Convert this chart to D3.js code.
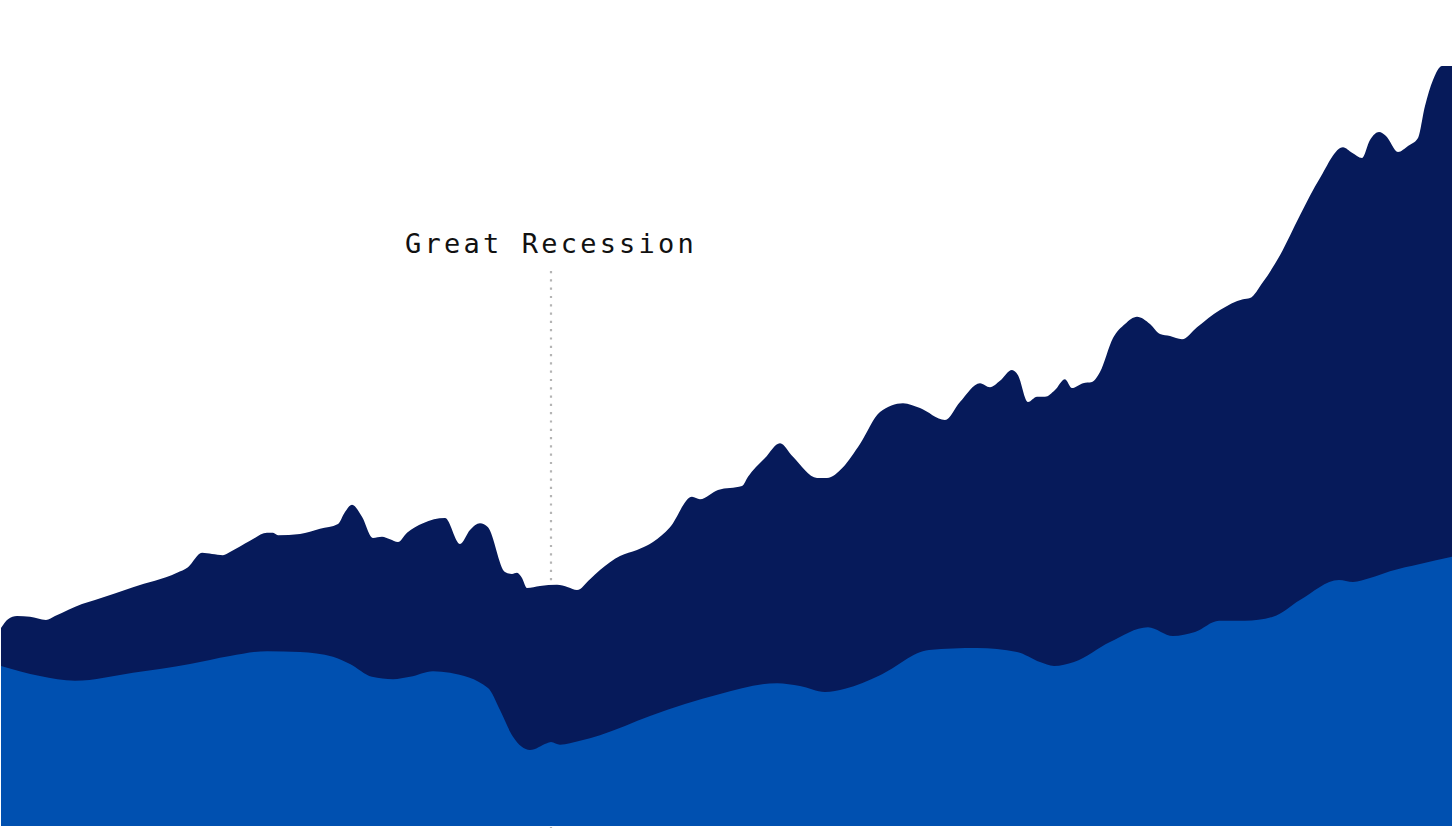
<!DOCTYPE html>
<html>
<head>
<meta charset="utf-8">
<script src="https://cdn.jsdelivr.net/npm/d3@7"></script>
<style>
  html, body { margin: 0; padding: 0; background: #fff; }
  svg { display: block; }
</style>
</head>
<body>
<div id="chart"></div>
<script>
// time index (months from start) and index values
const totalT = [0, 1.4, 3.2, 5.8, 9, 10.8, 16.2, 18.8, 26.4, 35.2, 37.4, 40.2, 42.2, 44.4, 45.8, 49.8, 53.2, 54.4, 55.4, 59.8,
  63.8, 67.4, 68.8, 70.2, 72.2, 74.4, 76.2, 77.8, 79.4, 81.2, 84.4, 88.8, 91.8, 93.8, 95.8, 97.4, 100.8, 102.2, 103.2, 104.2,
  105.2, 107.8, 111.2, 113.4, 115.2, 117.8, 119.8, 123.8, 127.2, 130.4, 133.8, 138.2, 139.8, 143.4, 148.2, 149.4, 152.8, 155.8, 158.4, 163.2,
  165.2, 168.4, 171.8, 175.8, 180.4, 183.8, 188.8, 191.8, 195.8, 197.8, 199.8, 202.2, 203.4, 205.4, 207.2, 208.8, 210.8, 212.8, 214.2, 216.4,
  218.2, 219.8, 222.4, 224.8, 227.2, 229.8, 231.8, 233.8, 236.2, 239.2, 243.8, 248.4, 249.8, 252.4, 255.8, 259.8, 263.8, 268.4, 270.2, 272.2,
  273.8, 275.6, 277, 279.4, 281.4, 283.4, 284.8, 286.4, 288.2, 290.2];
const totalV = [25, 26.1, 26.5, 26.4, 26, 26.5, 28, 28.5, 30.1, 31.9, 32.6, 34.4, 34.25, 34.1, 34.5, 35.9, 36.9, 36.9, 36.6, 36.75,
  37.4, 38, 39.5, 40.4, 38.9, 36.25, 36.4, 36.1, 35.75, 36.9, 38.1, 38.75, 35.5, 37.25, 38.1, 37.6, 32, 31.75, 31.9, 31.25,
  30, 30.25, 30.4, 30.1, 29.75, 31.1, 32.25, 34, 34.75, 35.75, 37.6, 41.4, 41.1, 42.25, 42.75, 43.9, 46.25, 48.1, 46.4, 43.75,
  43.75, 45.1, 48, 52, 53.1, 52.5, 51, 53.25, 55.6, 55.1, 55.9, 57.25, 56.6, 53.25, 53.9, 53.9, 54.75, 56.1, 55, 55.6,
  55.75, 57, 61.25, 63, 63.9, 63, 61.75, 61.5, 61.1, 62.6, 64.75, 66.1, 66.25, 68.25, 71.6, 76.6, 81.25, 85.1, 84.4, 83.75,
  86, 87, 86.5, 84.5, 85.25, 86.25, 90.25, 93.5, 95.25, 95.25];

const baseT = [0, 7.8, 14.8, 26.4, 37.8, 45.8, 53.2, 59.8, 66.4, 69.8, 74.2, 78.4, 81.8, 86.4, 89.8, 97.4, 99.8, 102.4, 105.8, 109.2,
  110, 111.8, 115.8, 119.8, 129.8, 143.8, 155.2, 159.8, 164.8, 168.8, 175.8, 185.6, 195.2, 203.2, 207.8, 210.6, 214.6, 221.8, 229.4, 234.4,
  238.8, 243.6, 248.8, 254.4, 259.8, 267.6, 270.4, 273.8, 277.8, 283.8, 290.2];
const baseV = [20.25, 19, 18.4, 19.4, 20.5, 21.5, 22.1, 22, 21.4, 20.5, 18.9, 18.6, 18.9, 19.6, 19.4, 17.5, 14.75, 11.4, 9.75, 10.6,
  10.75, 10.4, 10.9, 11.6, 14, 16.75, 18.1, 17.75, 17, 17.4, 19.1, 22.25, 22.5, 22, 20.75, 20.25, 20.75, 23.25, 25.1, 24,
  24.5, 25.9, 25.9, 26.4, 28.5, 31, 30.75, 31.25, 32.1, 33, 33.9];

const eventT = 110;
const eventLabel = "Great Recession";

const width = 1454, height = 828;
const baseline = 826;

const svg = d3.select("#chart").append("svg")
  .attr("width", width)
  .attr("height", height);

const x = d3.scaleLinear().domain([0, 290.2]).range([1, 1452]);
const y = d3.scaleLinear().domain([0, 100]).range([828, 28]);

const total = totalT.map((t, i) => ({ t, v: totalV[i] }));
const base = baseT.map((t, i) => ({ t, v: baseV[i] }));

// dotted marker goes underneath the areas
svg.append("line")
  .attr("x1", x(eventT)).attr("x2", x(eventT))
  .attr("y1", 271).attr("y2", height)
  .attr("stroke", "#b4b4b4")
  .attr("stroke-width", 2.2)
  .attr("stroke-dasharray", "2.2 6.1");

const area = d3.area()
  .curve(d3.curveMonotoneX)
  .x(d => x(d.t))
  .y0(baseline)
  .y1(d => y(d.v));

svg.append("path").datum(total).attr("fill", "#061a5a").attr("d", area);
svg.append("path").datum(base).attr("fill", "#0050b0").attr("d", area);

svg.append("text")
  .attr("x", x(eventT))
  .attr("y", 253)
  .attr("text-anchor", "middle")
  .attr("font-family", "'DejaVu Sans Mono', monospace")
  .attr("font-size", 27)
  .attr("letter-spacing", 3.2)
  .attr("fill", "#111")
  .text(eventLabel);
</script>
</body>
</html>
